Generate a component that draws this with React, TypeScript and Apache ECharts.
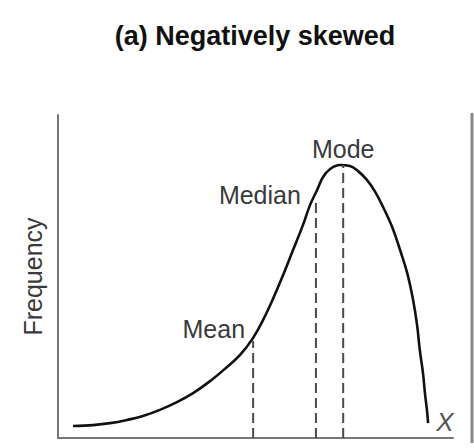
import React, { useEffect, useRef } from "react";
import * as echarts from "echarts";

// Skewed distribution curve (x, frequency)
const curveX = [3.8, 8.9, 13.2, 17.5, 21.5, 25.8, 30.1, 34.2, 38.5, 42.8, 46.1, 49.4, 51.9, 54.4, 57.0, 59.5, 62.0, 63.8, 65.6, 67.1, 68.9, 71.4, 73.9, 75.9, 78.2, 80.3, 82.3, 84.6, 86.6, 88.4, 89.9, 90.9, 91.6, 92.4, 92.9, 93.4, 93.7];
const curveY = [3.7, 4.0, 4.6, 5.6, 6.8, 8.7, 11.1, 13.9, 17.6, 22.0, 25.7, 31.0, 36.5, 43.0, 50.5, 58.2, 65.9, 72.1, 76.8, 80.8, 83.3, 84.5, 84.2, 82.7, 79.9, 76.2, 71.5, 65.3, 58.2, 51.1, 42.7, 35.0, 27.2, 20.1, 13.9, 8.7, 4.6];

// Central-tendency markers
const markerNames = ["Mean", "Median", "Mode"];
const markerX = [49.4, 65.3, 72.2];
const markerTop = [30.0, 72.8, 84.5];

const titleText = "(a) Negatively skewed";
const yName = "Frequency";
const xName = "X";

export default function App() {
  const ref = useRef<HTMLDivElement>(null);
  useEffect(() => {
    if (!ref.current) return;
    const chart = echarts.init(ref.current, null, { renderer: "svg" });
    const font = "'Liberation Sans', Arial, Helvetica, sans-serif";
    const labelCfg: any[] = [
      { position: "left", distance: 8, offset: [0, -12] },
      { position: "left", distance: 15, offset: [0, -8] },
      { position: "top", distance: 4, offset: [0, 0] },
    ];
    const markerSeries = markerNames.map((name, i) => ({
      type: "line",
      name,
      silent: true,
      symbol: "none",
      lineStyle: { color: "#4a4a4a", width: 2, type: [10, 5] },
      data: [
        { value: [markerX[i], 0] },
        {
          value: [markerX[i], markerTop[i]],
          symbol: "circle",
          symbolSize: 0.1,
          label: {
            show: true,
            formatter: name,
            position: labelCfg[i].position,
            distance: labelCfg[i].distance,
            offset: labelCfg[i].offset,
            color: "#3a3a3a",
            fontSize: 25,
            fontFamily: font,
          },
        },
      ],
    }));
    chart.setOption({
      animation: false,
      backgroundColor: "#fff",
      grid: { left: 58, right: 21, top: 115, bottom: 10 },
      xAxis: {
        type: "value",
        min: 0,
        max: 100,
        axisLine: { lineStyle: { color: "#777", width: 2 } },
        axisTick: { show: false },
        axisLabel: { show: false },
        splitLine: { show: false },
      },
      yAxis: {
        type: "value",
        min: 0,
        max: 100,
        name: yName,
        nameLocation: "middle",
        nameRotate: 90,
        nameGap: 13,
        nameTextStyle: { color: "#3a3a3a", fontSize: 25, fontFamily: font },
        axisLine: { show: true, lineStyle: { color: "#777", width: 2 } },
        axisTick: { show: false },
        axisLabel: { show: false },
        splitLine: { show: false },
      },
      graphic: [
        {
          type: "text",
          x: 255,
          y: 36,
          style: {
            text: titleText,
            align: "center",
            verticalAlign: "middle",
            fontSize: 27,
            fontWeight: "bold",
            fontFamily: font,
            fill: "#111",
          },
        },
        {
          type: "text",
          x: 445,
          y: 422,
          style: {
            text: xName,
            align: "center",
            verticalAlign: "middle",
            fontSize: 26,
            fontStyle: "italic",
            fontFamily: font,
            fill: "#555",
          },
        },
        {
          type: "line",
          shape: { x1: 472, y1: 113, x2: 472, y2: 443 },
          style: { stroke: "#888", lineWidth: 3 },
        },
      ],
      series: [
        {
          type: "line",
          name: "Distribution",
          smooth: 0.4,
          symbol: "none",
          silent: true,
          lineStyle: { color: "#111", width: 2.6 },
          data: curveX.map((x, i) => [x, curveY[i]]),
        },
        ...markerSeries,
      ],
    });
    return () => chart.dispose();
  }, []);
  return <div ref={ref} style={{ width: 474, height: 448, position: "absolute", left: 0, top: 0 }} />;
}
